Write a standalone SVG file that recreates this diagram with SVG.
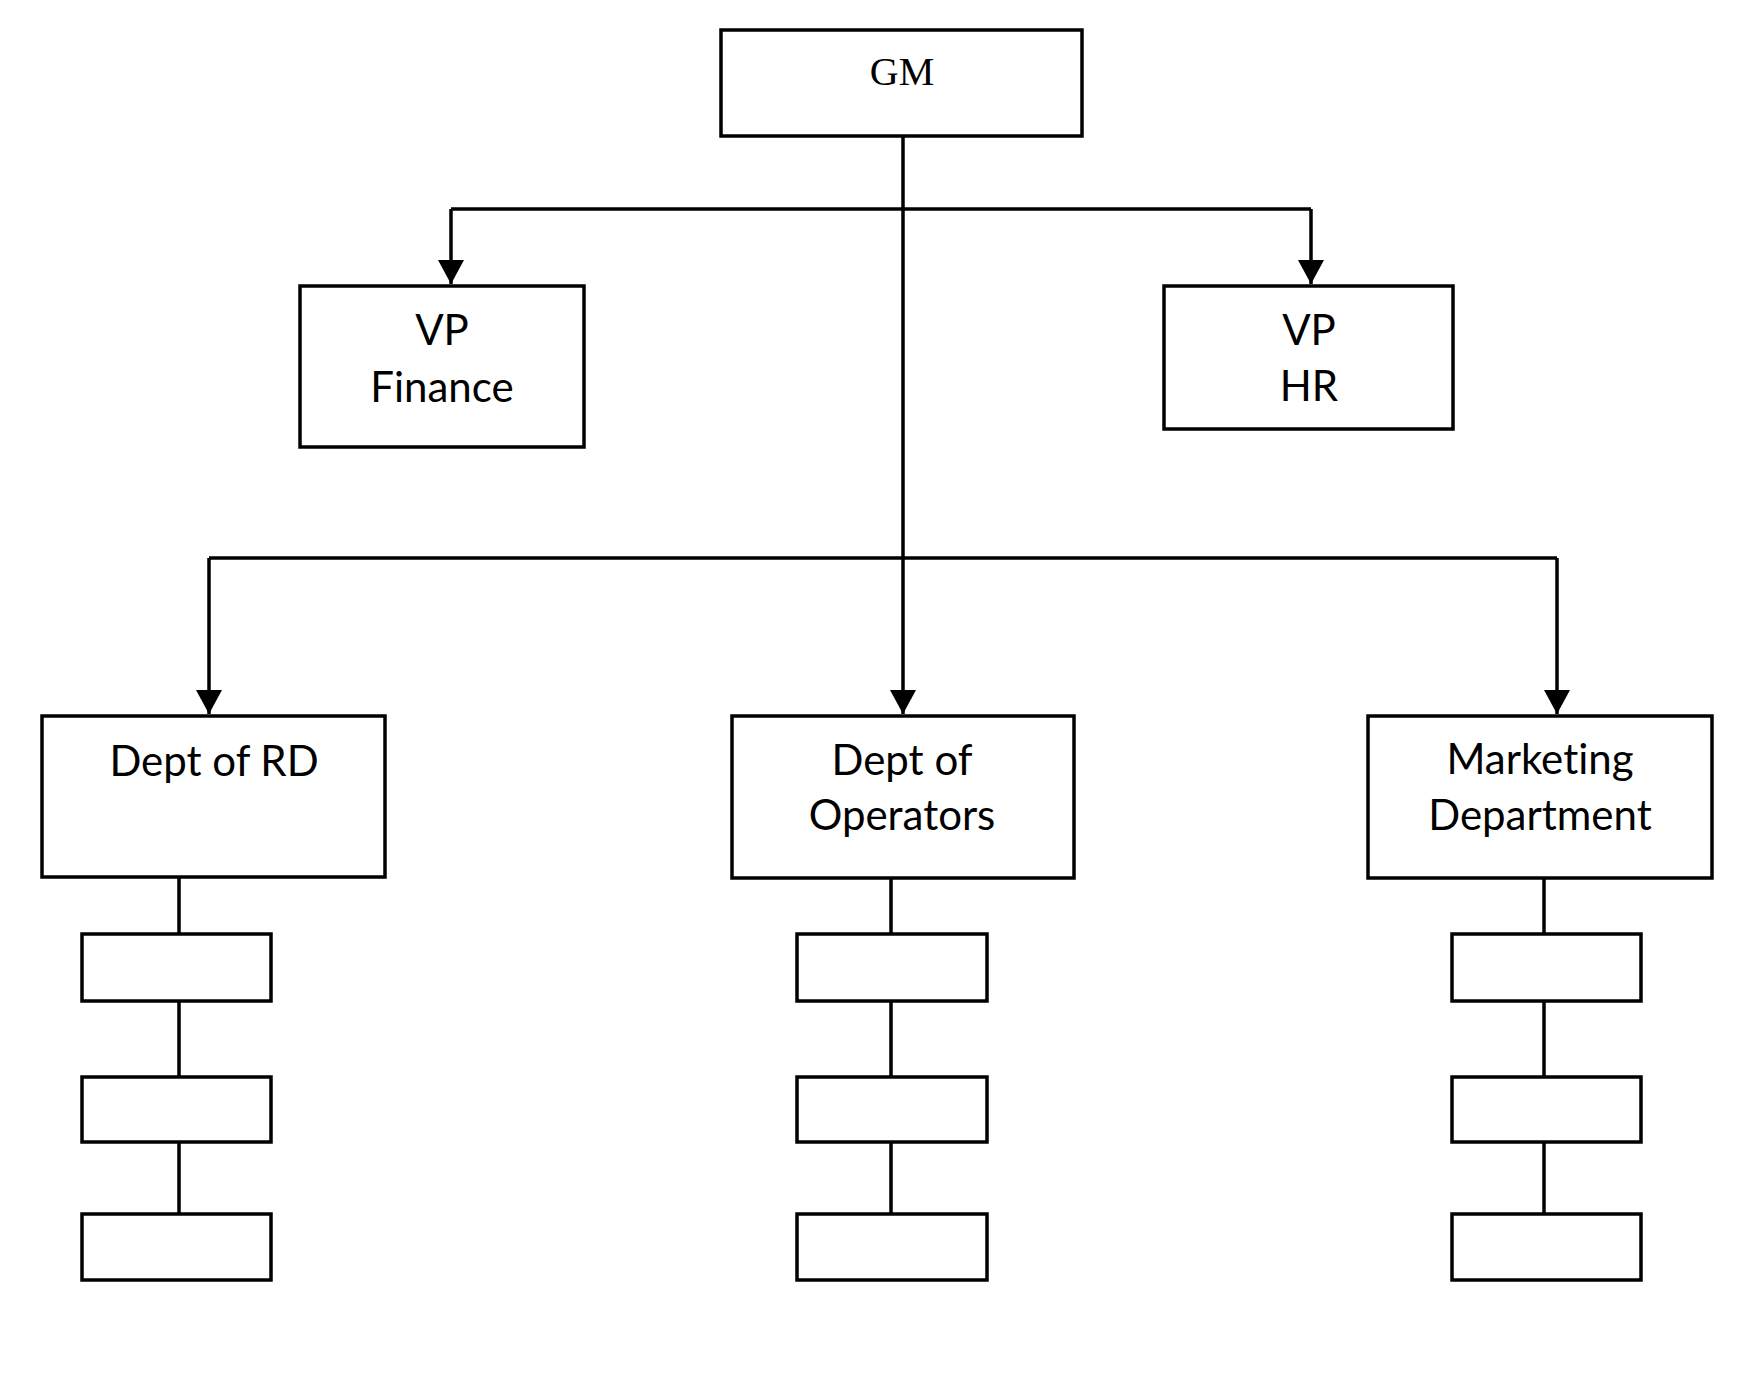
<svg xmlns="http://www.w3.org/2000/svg" width="1753" height="1393" viewBox="0 0 1753 1393">
<style>
.box{fill:#fff;stroke:#000;stroke-width:3.5}
.ln{fill:none;stroke:#000;stroke-width:3.5}
.t{font-family:Lato,"Open Sans",sans-serif;font-size:42px;fill:#000;text-anchor:middle;font-variant-ligatures:none}
.ts{font-family:"Liberation Serif","Times New Roman",serif;font-size:40px;fill:#000;text-anchor:middle}
</style>
<defs>
<marker id="arr" markerUnits="userSpaceOnUse" markerWidth="24" markerHeight="26" viewBox="0 0 24 26" refX="24" refY="13" orient="auto">
<path d="M0,0 L24,13 L0,26 z" fill="#000"/>
</marker>
</defs>
<rect width="1753" height="1393" fill="#fff"/>
<g id="connectors">
<path class="ln" d="M903,136 V209"/>
<path class="ln" d="M451,209 H1311"/>
<path class="ln" d="M451,209 V284" marker-end="url(#arr)"/>
<path class="ln" d="M1311,209 V284" marker-end="url(#arr)"/>
<path class="ln" d="M903,209 V714" marker-end="url(#arr)"/>
<path class="ln" d="M209,558 H1557"/>
<path class="ln" d="M209,558 V714" marker-end="url(#arr)"/>
<path class="ln" d="M1557,558 V714" marker-end="url(#arr)"/>
<path class="ln" d="M179,877 V934 M179,1001 V1077 M179,1142 V1214"/>
<path class="ln" d="M891,878 V934 M891,1001 V1077 M891,1142 V1214"/>
<path class="ln" d="M1544,878 V934 M1544,1001 V1077 M1544,1142 V1214"/>
</g>
<g id="gm"><rect class="box" x="721" y="30" width="361" height="106"/><text class="ts" x="902" y="85">GM</text></g>
<g id="vp-finance"><rect class="box" x="300" y="286" width="284" height="161"/><text class="t" x="442" y="345">VP</text><text class="t" x="442" y="402">Finance</text></g>
<g id="vp-hr"><rect class="box" x="1164" y="286" width="289" height="143"/><text class="t" x="1309" y="345">VP</text><text class="t" x="1309" y="401">HR</text></g>
<g id="dept-rd"><rect class="box" x="42" y="716" width="343" height="161"/><text class="t" x="214" y="776">Dept of RD</text></g>
<g id="dept-ops"><rect class="box" x="732" y="716" width="342" height="162"/><text class="t" x="902" y="775">Dept of</text><text class="t" x="902" y="830">Operators</text></g>
<g id="marketing"><rect class="box" x="1368" y="716" width="344" height="162"/><text class="t" x="1540" y="774">Marketing</text><text class="t" x="1540" y="830">Department</text></g>
<g id="rd-1"><rect class="box" x="82" y="934" width="189" height="67"/></g>
<g id="rd-2"><rect class="box" x="82" y="1077" width="189" height="65"/></g>
<g id="rd-3"><rect class="box" x="82" y="1214" width="189" height="66"/></g>
<g id="ops-1"><rect class="box" x="797" y="934" width="190" height="67"/></g>
<g id="ops-2"><rect class="box" x="797" y="1077" width="190" height="65"/></g>
<g id="ops-3"><rect class="box" x="797" y="1214" width="190" height="66"/></g>
<g id="mkt-1"><rect class="box" x="1452" y="934" width="189" height="67"/></g>
<g id="mkt-2"><rect class="box" x="1452" y="1077" width="189" height="65"/></g>
<g id="mkt-3"><rect class="box" x="1452" y="1214" width="189" height="66"/></g>
</svg>
